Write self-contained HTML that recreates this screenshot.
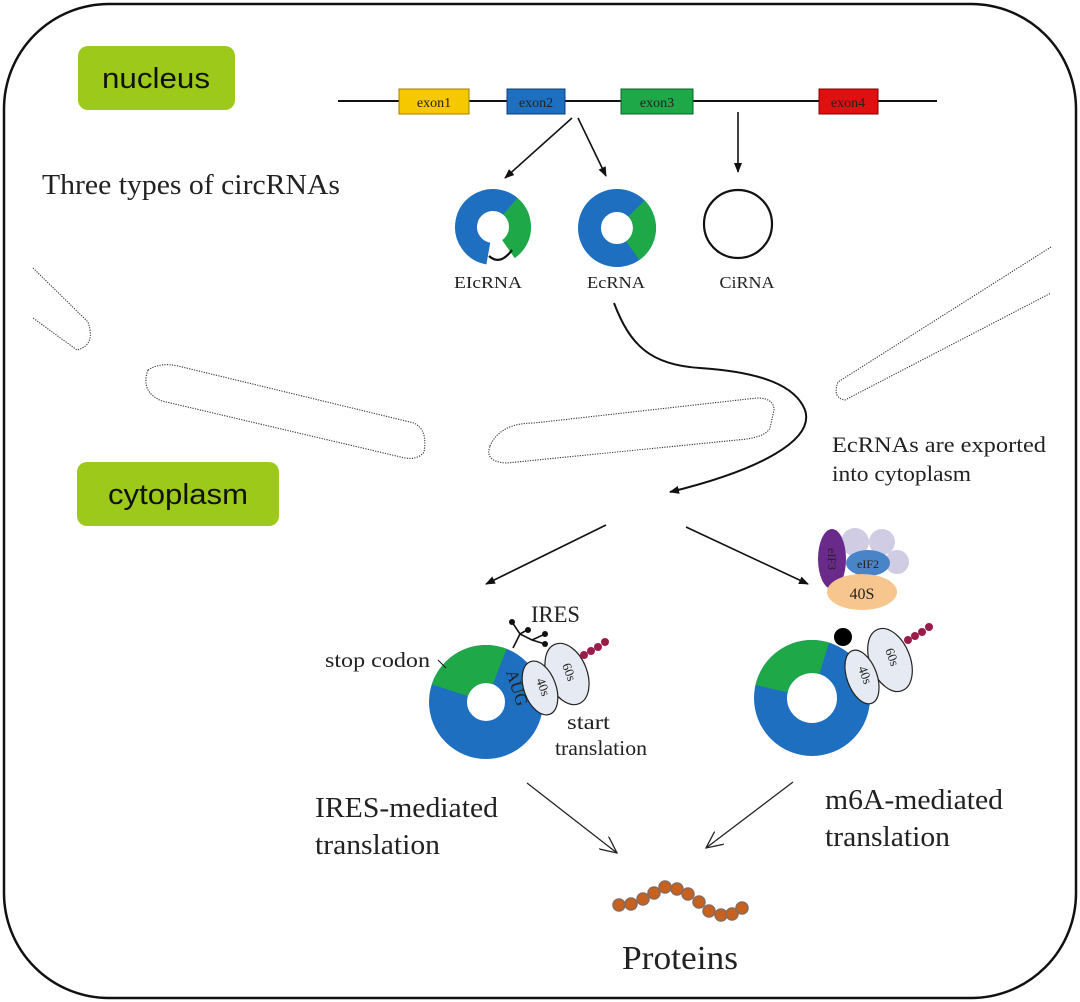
<!DOCTYPE html>
<html><head><meta charset="utf-8"><style>
html,body{margin:0;padding:0;background:#fff;}
svg{display:block;}
.s{font-family:"Liberation Serif",serif;fill:#222;}
.a{font-family:"Liberation Sans",sans-serif;fill:#111;}
</style></head><body>
<svg width="1080" height="1002" viewBox="0 0 1080 1002" xmlns="http://www.w3.org/2000/svg">
<defs>
<marker id="ah" markerWidth="10" markerHeight="8" refX="9" refY="4" orient="auto" markerUnits="userSpaceOnUse"><path d="M0,0 L10,4 L0,8 Z" fill="#111"/></marker>
<marker id="oh" markerWidth="18" markerHeight="16" refX="17" refY="8" orient="auto" markerUnits="userSpaceOnUse"><path d="M0,0 L17,8 L0,16" fill="none" stroke="#222" stroke-width="1.3"/></marker>
</defs>
<rect x="4" y="4" width="1072" height="994" rx="105" fill="#fff" stroke="#111" stroke-width="2.5"/>
<rect x="78" y="46" width="157" height="64" rx="10" fill="#9cc91a"/>
<text x="156" y="88" class="a" font-size="29" text-anchor="middle" textLength="108" lengthAdjust="spacingAndGlyphs">nucleus</text>
<rect x="77" y="462" width="202" height="64" rx="10" fill="#9cc91a"/>
<text x="178" y="504" class="a" font-size="29" text-anchor="middle" textLength="140" lengthAdjust="spacingAndGlyphs">cytoplasm</text>
<line x1="338" y1="101" x2="937" y2="101" stroke="#111" stroke-width="2"/>
<rect x="399" y="89" width="70" height="25" fill="#f5c800" stroke="#a08000"/>
<text x="434" y="107" class="s" font-size="14" text-anchor="middle">exon1</text>
<rect x="507" y="89" width="58" height="25" fill="#1e6fc0" stroke="#0d3d70"/>
<text x="536" y="107" class="s" font-size="14" text-anchor="middle" fill="#0a2040">exon2</text>
<rect x="621" y="89" width="72" height="25" fill="#1ea848" stroke="#0d6028"/>
<text x="657" y="107" class="s" font-size="14" text-anchor="middle">exon3</text>
<rect x="819" y="89" width="59" height="25" fill="#e01010" stroke="#800000"/>
<text x="848" y="107" class="s" font-size="14" text-anchor="middle" fill="#900">exon4</text>
<line x1="572" y1="118" x2="505" y2="178" stroke="#111" stroke-width="1.6" marker-end="url(#ah)"/>
<line x1="578" y1="118" x2="606" y2="176" stroke="#111" stroke-width="1.6" marker-end="url(#ah)"/>
<line x1="738" y1="112" x2="738" y2="172" stroke="#111" stroke-width="1.6" marker-end="url(#ah)"/>
<text x="42" y="194" class="s" font-size="28" textLength="298" lengthAdjust="spacingAndGlyphs">Three types of circRNAs</text>
<circle cx="493" cy="227" r="27" fill="none" stroke="#1e6fc0" stroke-width="22" stroke-dasharray="99 200" transform="rotate(100 493 227)"/>
<circle cx="493" cy="227" r="27" fill="none" stroke="#1ea848" stroke-width="22" stroke-dasharray="49.5 200" transform="rotate(-50 493 227)"/>
<path d="M489,256 Q500,266 512,250" fill="none" stroke="#111" stroke-width="2.2"/>
<circle cx="617" cy="228" r="27.5" fill="none" stroke="#1e6fc0" stroke-width="23"/>
<circle cx="617" cy="228" r="27.5" fill="none" stroke="#1ea848" stroke-width="23" stroke-dasharray="48 200" transform="rotate(-45 617 228)"/>
<circle cx="738" cy="224" r="34" fill="none" stroke="#111" stroke-width="2.2"/>
<text x="488" y="288" class="s" font-size="17" text-anchor="middle" textLength="68" lengthAdjust="spacingAndGlyphs">EIcRNA</text>
<text x="616" y="288" class="s" font-size="17" text-anchor="middle" textLength="58" lengthAdjust="spacingAndGlyphs">EcRNA</text>
<text x="747" y="288" class="s" font-size="17" text-anchor="middle" textLength="55" lengthAdjust="spacingAndGlyphs">CiRNA</text>
<g fill="none" stroke="#333" stroke-width="1.1" stroke-dasharray="1.2 1.3">
<path d="M33,268 L88,322 Q96,345 77,350 L33,318"/>
<path d="M148,370 Q160,362 178,366 L414,423 Q428,430 424,452 Q418,460 405,458 L162,401 Q140,392 148,370 Z"/>
<path d="M490,446 Q500,423 534,423 L757,398 Q774,398 774,410 L770,428 Q765,438 737,440 L507,463 Q484,462 490,446 Z"/>
<path d="M1051,247 L838,382 Q832,398 845,400 L1051,293"/>
</g>
<path d="M614,303 C630,345 650,365 700,368 C760,372 795,385 805,410 C815,440 760,470 670,492" fill="none" stroke="#111" stroke-width="2" marker-end="url(#ah)"/>
<text x="832" y="452" class="s" font-size="22" textLength="214" lengthAdjust="spacingAndGlyphs">EcRNAs are  exported</text>
<text x="832" y="481" class="s" font-size="22" textLength="139" lengthAdjust="spacingAndGlyphs">into cytoplasm</text>
<line x1="606" y1="525" x2="486" y2="584" stroke="#111" stroke-width="1.6" marker-end="url(#ah)"/>
<line x1="686" y1="527" x2="808" y2="584" stroke="#111" stroke-width="1.6" marker-end="url(#ah)"/>
<circle cx="486" cy="702" r="38" fill="none" stroke="#1e6fc0" stroke-width="38"/>
<circle cx="486" cy="702" r="38" fill="none" stroke="#1ea848" stroke-width="38" stroke-dasharray="61.7 300" transform="rotate(198 486 702)"/>
<line x1="438" y1="660" x2="446" y2="668" stroke="#111" stroke-width="1"/>
<g stroke="#111" stroke-width="1.6" fill="none">
<path d="M513,648 L520,634 L512,622 M520,634 L527,630 M520,634 L532,640 L545,634 M532,640 L545,644"/>
</g>
<g fill="#111"><circle cx="512" cy="622" r="3"/><circle cx="528" cy="630" r="3"/><circle cx="545" cy="634" r="3"/><circle cx="545" cy="644" r="3"/></g>
<text x="531" y="622" class="s" font-size="23" textLength="49" lengthAdjust="spacingAndGlyphs">IRES</text>
<text x="325" y="667" class="s" font-size="21" textLength="105" lengthAdjust="spacingAndGlyphs">stop codon</text>
<text x="0" y="0" class="s" font-size="17" transform="translate(506,672) rotate(72)">AUG</text>
<ellipse cx="567" cy="674" rx="20" ry="32" transform="rotate(-22 567 674)" fill="#e6eaf2" stroke="#222" stroke-width="1.2"/>
<text x="0" y="0" class="s" font-size="13" transform="translate(562,665) rotate(70)">60s</text>
<ellipse cx="540" cy="688" rx="16" ry="28" transform="rotate(-20 540 688)" fill="#e6eaf2" stroke="#222" stroke-width="1.2"/>
<text x="0" y="0" class="s" font-size="13" transform="translate(536,680) rotate(70)">40s</text>
<g fill="#9b1b4a"><circle cx="584" cy="655" r="4"/><circle cx="591" cy="651" r="4"/><circle cx="598" cy="647" r="4"/><circle cx="605" cy="642" r="4"/></g>
<text x="567" y="729" class="s" font-size="21" textLength="43" lengthAdjust="spacingAndGlyphs">start</text>
<text x="555" y="755" class="s" font-size="21" textLength="92" lengthAdjust="spacingAndGlyphs">translation</text>
<g fill="#d0cce3"><circle cx="855" cy="542" r="14"/><circle cx="882" cy="542" r="13"/><circle cx="897" cy="562" r="12"/></g>
<ellipse cx="868" cy="563" rx="22" ry="13" fill="#4a84c8"/>
<ellipse cx="832" cy="559" rx="14" ry="30" fill="#6a2a8c"/>
<ellipse cx="862" cy="592" rx="35" ry="18" fill="#f7c58e"/>
<text x="868" y="568" class="s" font-size="12" text-anchor="middle">eIF2</text>
<text x="0" y="0" class="s" font-size="12" transform="translate(828,548) rotate(90)" fill="#222">eIF3</text>
<text x="862" y="599" class="s" font-size="16" text-anchor="middle">40S</text>
<circle cx="812" cy="698" r="41.5" fill="none" stroke="#1e6fc0" stroke-width="33"/>
<circle cx="812" cy="698" r="41.5" fill="none" stroke="#1ea848" stroke-width="33" stroke-dasharray="68.1 300" transform="rotate(193 812 698)"/>
<circle cx="843" cy="637" r="9" fill="#000"/>
<ellipse cx="890" cy="660" rx="20" ry="33" transform="rotate(-22 890 660)" fill="#e6eaf2" stroke="#222" stroke-width="1.2"/>
<text x="0" y="0" class="s" font-size="13" transform="translate(885,650) rotate(70)">60s</text>
<ellipse cx="862" cy="677" rx="15" ry="28" transform="rotate(-20 862 677)" fill="#e6eaf2" stroke="#222" stroke-width="1.2"/>
<text x="0" y="0" class="s" font-size="13" transform="translate(858,668) rotate(70)">40s</text>
<g fill="#9b1b4a"><circle cx="908" cy="640" r="4"/><circle cx="915" cy="636" r="4"/><circle cx="922" cy="632" r="4"/><circle cx="929" cy="627" r="4"/></g>
<text x="315" y="817" class="s" font-size="29" textLength="183" lengthAdjust="spacingAndGlyphs">IRES-mediated</text>
<text x="315" y="854" class="s" font-size="29" textLength="125" lengthAdjust="spacingAndGlyphs">translation</text>
<text x="825" y="809" class="s" font-size="29" textLength="178" lengthAdjust="spacingAndGlyphs">m6A-mediated</text>
<text x="825" y="846" class="s" font-size="29" textLength="125" lengthAdjust="spacingAndGlyphs">translation</text>
<line x1="527" y1="783" x2="617" y2="853" stroke="#222" stroke-width="1.3" marker-end="url(#oh)"/>
<line x1="793" y1="782" x2="706" y2="848" stroke="#222" stroke-width="1.3" marker-end="url(#oh)"/>
<g fill="#c8601e" stroke="#8a6a5a" stroke-width="1.5">
<circle cx="619" cy="905" r="6"/><circle cx="631" cy="904" r="6"/><circle cx="643" cy="899" r="6"/><circle cx="654" cy="893" r="6"/><circle cx="665" cy="887" r="6"/><circle cx="677" cy="889" r="6"/><circle cx="688" cy="894" r="6"/><circle cx="699" cy="902" r="6"/><circle cx="709" cy="911" r="6"/><circle cx="721" cy="915" r="6"/><circle cx="732" cy="914" r="6"/><circle cx="742" cy="908" r="6"/>
</g>
<text x="680" y="969" class="s" font-size="34" text-anchor="middle" textLength="116" lengthAdjust="spacingAndGlyphs">Proteins</text>
</svg>
</body></html>
